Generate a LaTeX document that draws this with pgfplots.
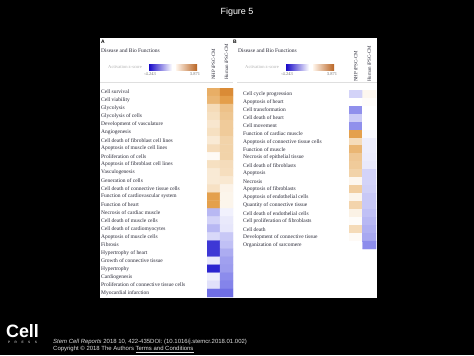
\documentclass[border=0pt]{standalone}
\usepackage{pgfplots}
\pgfplotsset{compat=1.18}
\usepackage{fontspec}
\setmainfont{Liberation Serif}
\newfontfamily\arial{Liberation Sans}
\definecolor{lab}{HTML}{2A2A38}
\definecolor{bluebar}{RGB}{25,10,200}
\definecolor{orgbar}{RGB}{185,100,35}
\pgfplotsset{
 colormap={zs}{rgb255(0pt)=(20,10,200) rgb255(276pt)=(120,120,232) rgb255(400pt)=(200,200,246) rgb255(523pt)=(255,255,255) rgb255(646pt)=(246,222,190) rgb255(769pt)=(236,190,130) rgb255(892pt)=(226,150,60) rgb255(1000pt)=(190,105,35)},
 hm/.style={scale only axis, anchor=south west,
  axis line style={draw=none}, tick style={draw=none}, major tick length=0pt,
  point meta min=-4.243, point meta max=3.871, colormap name=zs,
  xmin=-0.5, xmax=1.5, ymin=0.5, y dir=reverse,
  xtick={0,1}, xticklabels={NHP iPSC-CM, Human iPSC-CM}, xticklabel pos=right,
  xticklabel style={rotate=90, anchor=west, inner sep=0pt, font=\fontsize{5}{6}\selectfont, text=lab},
  xticklabel shift=8bp,
  yticklabel style={anchor=west, inner sep=0pt, xshift=-106bp, font=\fontsize{5.5}{6}\selectfont, text=lab},
 }
}
\pgfplotstableread{
x y z
0 1 2.4
1 1 3.2
0 2 2.2
1 2 2.8
0 3 1.1
1 3 1.9
0 4 0.95
1 4 1.75
0 5 0.75
1 5 1.6
0 6 0.95
1 6 1.6
0 7 0.65
1 7 1.35
0 8 1.05
1 8 1.35
0 9 0.15
1 9 1.35
0 10 0.95
1 10 1.05
0 11 0.65
1 11 1.0
0 12 0.65
1 12 0.7
0 13 0.9
1 13 0.35
0 14 2.75
1 14 0.3
0 15 2.75
1 15 0.3
0 16 -1.2
1 16 -0.25
0 17 -0.8
1 17 -0.4
0 18 -1.2
1 18 -0.45
0 19 -0.7
1 19 -1.0
0 20 -3.3
1 20 -1.1
0 21 -3.3
1 21 -1.35
0 22 -0.4
1 22 -1.5
0 23 -3.7
1 23 -1.55
0 24 -0.3
1 24 -1.75
0 25 -0.55
1 25 -1.85
0 26 -2.2
1 26 -2.2
}\dataA
\pgfplotstableread{
x y z
0 1 -0.8
1 1 0.25
0 2 0
1 2 0.1
0 3 -1.7
1 3 0
0 4 -0.95
1 4 0
0 5 -1.7
1 5 0
0 6 2.75
1 6 -0.1
0 7 1.05
1 7 -0.3
0 8 2.2
1 8 -0.3
0 9 1.7
1 9 -0.35
0 10 1.6
1 10 -0.4
0 11 1.35
1 11 -0.8
0 12 0.25
1 12 -0.8
0 13 1.5
1 13 -0.85
0 14 0.3
1 14 -1.0
0 15 1.3
1 15 -1.0
0 16 0.4
1 16 -1.1
0 17 0.1
1 17 -1.2
0 18 1.1
1 18 -1.3
0 19 0.15
1 19 -1.4
0 20 0
1 20 -1.75
}\dataB
\begin{document}
\begin{tikzpicture}[x=1bp,y=1bp]
\useasboundingbox (0,0) rectangle (474,355);
\fill[black] (0,0) rectangle (474,355);
\fill[white] (100,57) rectangle (377,317);
\node[text=white, font=\arial\fontsize{9}{10}\selectfont] at (237,343) {Figure 5};
% panel headers
\draw[gray!25, line width=0.4bp] (100,273) -- (233,273);
\draw[gray!25, line width=0.4bp] (237,273) -- (377,273);
\node[anchor=west, inner sep=0pt, font=\arial\bfseries\fontsize{5}{6}\selectfont] at (101,313.5) {A};
\node[anchor=west, inner sep=0pt, font=\arial\bfseries\fontsize{5}{6}\selectfont] at (233,313) {B};
\foreach \dx in {0,137}{
 \node[anchor=west, inner sep=0pt, text=lab, font=\fontsize{5.5}{6}\selectfont] at (101+\dx,304.5) {Disease and Bio Functions};
 \node[anchor=west, inner sep=0pt, text=gray!60, font=\fontsize{4.6}{5}\selectfont] at (108+\dx,287.7) {Activation z-score};
 \shade[left color=bluebar, right color=white] (149+\dx,285) rectangle (172+\dx,291);
 \shade[left color=orange!8, right color=orgbar] (176+\dx,285) rectangle (197+\dx,291);
 \node[inner sep=0pt, text=gray!90!black, font=\fontsize{4.5}{5}\selectfont] at (150+\dx,281) {-4.243};
 \node[inner sep=0pt, text=gray!90!black, font=\fontsize{4.5}{5}\selectfont] at (195+\dx,281) {3.871};
}
\begin{axis}[hm, at={(207bp,58bp)}, width=26bp, height=209bp, ymax=26.5,
 ytick={1,...,26},
 yticklabels={Cell survival, Cell viability, Glycolysis, Glycolysis of cells, Development of vasculature, Angiogenesis, Cell death of fibroblast cell lines, Apoptosis of muscle cell lines, Proliferation of cells, Apoptosis of fibroblast cell lines, Vasculogenesis, Generation of cells, Cell death of connective tissue cells, Function of cardiovascular system, Function of heart, Necrosis of cardiac muscle, Cell death of muscle cells, Cell death of cardiomyocytes, Apoptosis of muscle cells, Fibrosis, Hypertrophy of heart, Growth of connective tissue, Hypertrophy, Cardiogenesis, Proliferation of connective tissue cells, Myocardial infarction}]
\addplot[matrix plot*, mesh/cols=2, point meta=explicit] table[x=x, y=y, meta=z] {\dataA};
\end{axis}
\begin{axis}[hm, at={(349bp,106bp)}, width=27bp, height=159bp, ymax=20.5,
 ytick={1,...,20},
 yticklabels={Cell cycle progression, Apoptosis of heart, Cell transformation, Cell death of heart, Cell movement, Function of cardiac muscle, Apoptosis of connective tissue cells, Function of muscle, Necrosis of epithelial tissue, Cell death of fibroblasts, Apoptosis, Necrosis, Apoptosis of fibroblasts, Apoptosis of endothelial cells, Quantity of connective tissue, Cell death of endothelial cells, Cell proliferation of fibroblasts, Cell death, Development of connective tissue, Organization of sarcomere}]
\addplot[matrix plot*, mesh/cols=2, point meta=explicit] table[x=x, y=y, meta=z] {\dataB};
\end{axis}
% footer
\node[text=white, font=\arial\bfseries\fontsize{18}{19}\selectfont, inner sep=0pt] at (22.5,23.5) {Cell};
\node[text=white, font=\arial\fontsize{3.2}{4}\selectfont, inner sep=0pt] at (22.5,12.5) {\makebox[29bp][s]{P\hfill R\hfill E\hfill S\hfill S}};
\node[anchor=west, inner sep=0pt, text=gray!25, font=\arial\fontsize{6}{7}\selectfont] at (53,13.3) {\textit{Stem Cell Reports} 2018 10, 422-435DOI: (10.1016/j.stemcr.2018.01.002)};
\node[anchor=west, inner sep=0pt, text=gray!25, font=\arial\fontsize{6}{7}\selectfont] at (53,5.7) {Copyright © 2018 The Authors \underline{Terms and Conditions}};
\end{tikzpicture}
\end{document}
